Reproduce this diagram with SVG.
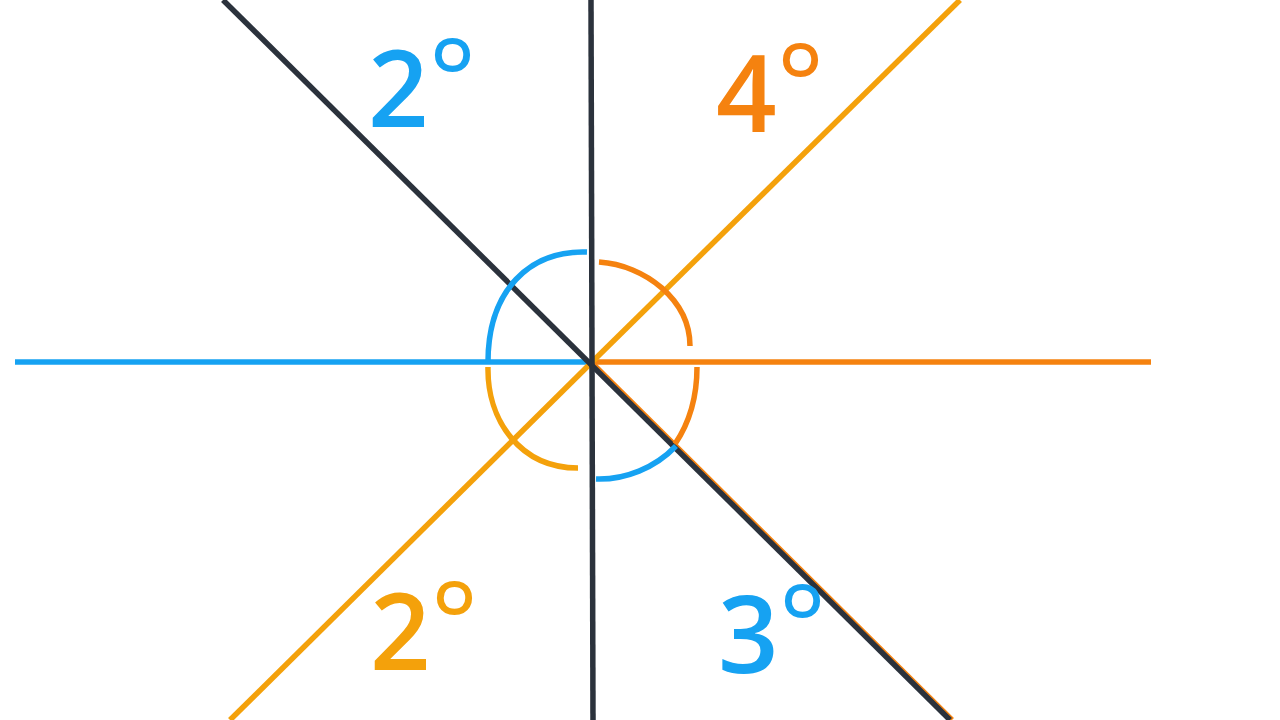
<svg xmlns="http://www.w3.org/2000/svg" width="1280" height="720" viewBox="0 0 1280 720">
<style>
.ln{fill:none;stroke-width:5.5;stroke-linecap:butt}
.arc{fill:none;stroke-width:5.5;stroke-linecap:butt}
.dark{stroke:#2b323c}
.blue{stroke:#16a2f2}
.orange{stroke:#f5820f}
.amber{stroke:#f4a10b}
.lbl{font-family:"Open Sans","Liberation Sans",sans-serif;font-weight:600;font-size:106px}
.deg{font-weight:500;font-size:112px}
</style>
<rect width="1280" height="720" fill="#ffffff"/>
<g id="connectors">
<line class="ln blue" x1="15" y1="362" x2="591" y2="362"/>
<line class="ln orange" x1="591" y1="362" x2="1151" y2="362"/>
<line class="ln amber" x1="591" y1="363" x2="960" y2="0"/>
<line class="ln amber" x1="591" y1="363" x2="230" y2="720"/>
<line class="ln orange" x1="593" y1="364" x2="952" y2="720"/>
<line class="ln dark" x1="223" y1="0" x2="950" y2="720"/>
<line class="ln dark" x1="591" y1="0" x2="593" y2="720"/>
</g>
<g id="arcs">
<path class="arc blue" d="M587,252 C530,250 488,290 488,362"/>
<path class="arc orange" d="M599,262 C645,265 690,300 690,346"/>
<path class="arc orange" d="M697,367 C697,395 690,422 675,444"/>
<path class="arc blue" d="M596,479 C625,480 655,468 676,446"/>
<path class="arc amber" d="M488,367 C487,420 520,468 578,468"/>
</g>
<g id="label-top-left"><text class="lbl" x="368" y="127" fill="#16a2f2">2<tspan class="deg" dy="-8">°</tspan></text></g>
<g id="label-top-right"><text class="lbl" x="716" y="132" fill="#f5820f">4<tspan class="deg" dy="-8">°</tspan></text></g>
<g id="label-bottom-left"><text class="lbl" x="370" y="670" fill="#f4a10b">2<tspan class="deg" dy="-8">°</tspan></text></g>
<g id="label-bottom-right"><text class="lbl" x="718" y="673" fill="#16a2f2">3<tspan class="deg" dy="-8">°</tspan></text></g>
</svg>
